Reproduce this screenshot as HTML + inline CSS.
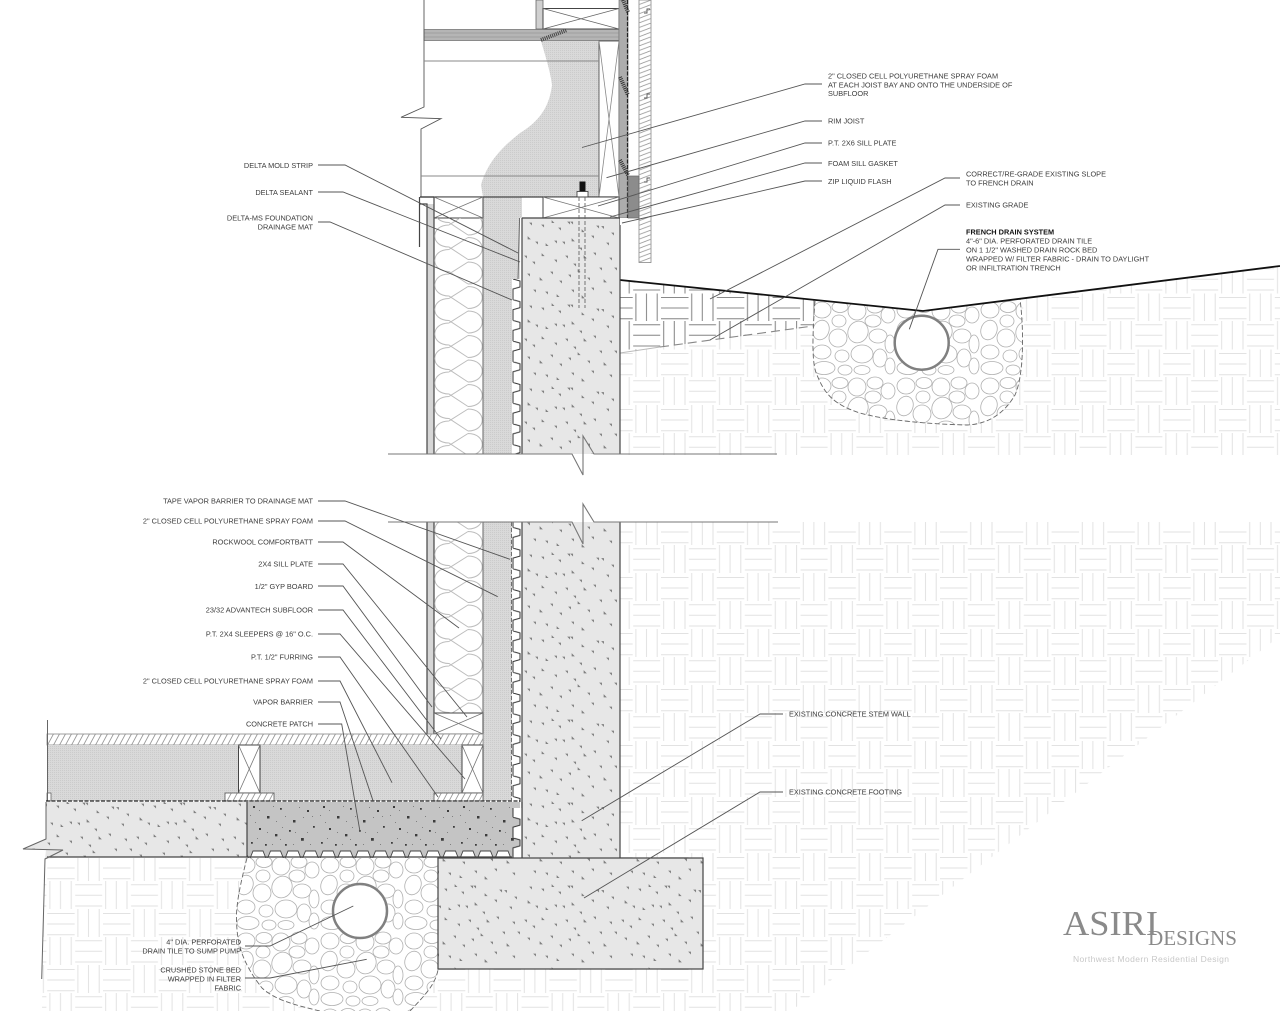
<!DOCTYPE html>
<html><head><meta charset="utf-8"><style>
html,body{margin:0;padding:0;background:#fff}
svg{display:block;filter:blur(.35px)}
text{font-family:"Liberation Sans",sans-serif;font-size:7.35px;fill:#3c3c3c}
.e{text-anchor:end}
.l{fill:none;stroke:#555;stroke-width:.9}
.k{fill:none;stroke:#444;stroke-width:1.2}
</style></head><body>
<svg width="1280" height="1011" viewBox="0 0 1280 1011" xmlns="http://www.w3.org/2000/svg">
<defs>
<pattern id="earth" patternUnits="userSpaceOnUse" x="940" y="685" width="55.8" height="56">
<path d="M0 4.5H27.5M0 15H27.5M0 25.7H27.5M30.7 0V28M41.3 0V28M52 0V28M2.7 28V56M13.3 28V56M24 28V56M28 31.7H55M28 42.3H55M28 53H55" stroke="#e2e2e2" stroke-width="1" fill="none"/>
</pattern>
<pattern id="earthD" patternUnits="userSpaceOnUse" x="940" y="685" width="55.8" height="56">
<path d="M0 4.5H27.5M0 15H27.5M0 25.7H27.5M30.7 0V28M41.3 0V28M52 0V28M2.7 28V56M13.3 28V56M24 28V56M28 31.7H55M28 42.3H55M28 53H55" stroke="#8a8a8a" stroke-width="1" fill="none"/>
</pattern>
<pattern id="hatch" patternUnits="userSpaceOnUse" width="6" height="11" patternTransform="translate(0 734)">
<rect width="6" height="11" fill="#fff"/><path d="M-1 12L6 -1M5 12L12 -1" stroke="#999" stroke-width=".9"/>
</pattern>
<pattern id="sid" patternUnits="userSpaceOnUse" width="12" height="4.6" x="639">
<path d="M0 4.6L12 0" stroke="#999" stroke-width=".8"/>
</pattern>
<pattern id="foam" patternUnits="userSpaceOnUse" width="2" height="2">
<rect width="2" height="2" fill="#d9d9d9"/><rect width="1" height="1" fill="#cbcbcb"/>
</pattern>
<pattern id="batt" patternUnits="userSpaceOnUse" x="434" y="224" width="49" height="24.5">
<g fill="none" stroke="#bdbdbd" stroke-width="1">
<path d="M15 1C-4 1-4 23 15 23L34 35.5M34 13.5C53 13.5 53 35.500 34 35.5M15 -1.5L34 11M34 -11C53 -11 53 11 34 11M15 1L34 -11.5M15 25.5L34 13.5"/>
</g>
</pattern>
<pattern id="conc" patternUnits="userSpaceOnUse" x="522" y="218" width="97" height="83">
<rect width="97" height="83" fill="#e7e7e7"/>
<path fill="#808080" stroke="#808080" stroke-width=".7" d="M8 5h1.6v1.6zM20 7h1.7v1.7zM30 3l1.6 1.6h-1.6zM37 10h1.6v1.6zM46 4h1.7v1.7zM49 4h1.7v1.7zM60 12l1.8 1.8h-1.8zM75 8h1.7v1.7zM80 8.500h1.6v1.6zM90 15h1.6v1.6zM6 19l2 2h-2zM14 24h1.6v1.6zM24 26l1.7 1.7h-1.7zM33 23h1.6v1.6zM41 24h1.6v1.6zM50 21l2 2h-2zM58 30h1.6v1.6zM70 18h1.6v1.6zM85 25h1.6v1.6zM3 38h1.6v1.6zM11 44h1.7v1.7zM20 36l1.8 1.8h-1.8zM33 42h1.6v1.6zM44 38h1.6v1.6zM52 46h1.7v1.7zM62 38l2 2h-2zM72 35h1.6v1.6zM88 40h1.6v1.6zM93 50h1.6v1.6zM6 56h1.6v1.6zM18 60l2 2h-2zM29 54h1.6v1.6zM38 63h1.6v1.6zM47 57h1.6v1.6zM56 52l1.8 1.8h-1.8zM66 60h1.6v1.6zM78 50h1.6v1.6zM82 62l2 2h-2zM12 72h1.6v1.6zM24 74h1.6v1.6zM35 77l1.7 1.7h-1.7zM50 72h1.6v1.6zM60 78l2 2h-2zM70 70h1.6v1.6zM88 74h1.7v1.7z"/>
</pattern>
<pattern id="patch" patternUnits="userSpaceOnUse" x="247" y="802" width="70" height="48">
<rect width="70" height="48" fill="#c4c4c4"/>
<path fill="#3c3c3c" d="M6 4h2v2h-2zM20 14h2.500v2.500h-2.500zM33 6h1.800v1.800h-1.800zM46 18h2.500v2.500h-2.500zM60 8h2v2h-2zM12 26h2v2h-2zM28 32h2.400v2.400h-2.400zM42 28h1.800v1.800h-1.800zM54 36h2.800v2.800h-2.800zM66 24h1.800v1.800h-1.800zM4 40h1.800v1.800h-1.800zM18 42h1.800v1.800h-1.800zM38 42h1.800v1.800h-1.800z"/>
<path fill="#808080" d="M3 13h1v1h-1zM12 8h1v1h-1zM26 4h1v1h-1zM29 19h1v1h-1zM38 14h1v1h-1zM52 5h1v1h-1zM56 15h1v1h-1zM65 14h1v1h-1zM8 20h1v1h-1zM20 30h1v1h-1zM35 25h1v1h-1zM48 30h1v1h-1zM60 30h1v1h-1zM10 36h1v1h-1zM33 37h1v1h-1zM46 42h1v1h-1zM63 42h1v1h-1zM25 42h1v1h-1z"/>
</pattern>
<pattern id="peb" patternUnits="userSpaceOnUse" x="812" y="300" width="84" height="76">
<rect width="84" height="76" fill="#fff"/>
<g fill="#fff" stroke="#b0b0b0" stroke-width=".8">
<ellipse cx="10" cy="10" rx="9" ry="8"/><ellipse cx="28" cy="7" rx="8" ry="5.500"/><ellipse cx="45" cy="11" rx="9" ry="9"/><ellipse cx="63" cy="7" rx="8" ry="6"/><ellipse cx="76" cy="15" rx="7" ry="8"/>
<ellipse cx="27" cy="21" rx="7" ry="6"/><ellipse cx="61" cy="21" rx="8" ry="6"/>
<ellipse cx="9" cy="30" rx="8" ry="10" transform="rotate(20 9 30)"/><ellipse cx="26" cy="38" rx="9" ry="9"/><ellipse cx="46" cy="32" rx="10" ry="11" transform="rotate(25 46 32)"/><ellipse cx="66" cy="36" rx="9" ry="7"/><ellipse cx="78" cy="44" rx="5" ry="9"/>
<ellipse cx="10" cy="52" rx="9" ry="7"/><ellipse cx="30" cy="56" rx="7" ry="6"/><ellipse cx="50" cy="54" rx="11" ry="9"/><ellipse cx="68" cy="58" rx="7" ry="9"/>
<ellipse cx="12" cy="68" rx="11" ry="6.500"/><ellipse cx="33" cy="70" rx="7" ry="5"/><ellipse cx="50" cy="70" rx="8" ry="4.500"/><ellipse cx="78" cy="66" rx="5" ry="8"/>
</g></pattern>
<pattern id="peb2" patternUnits="userSpaceOnUse" x="236" y="855" width="84" height="76">
<rect width="84" height="76" fill="#fff"/>
<g fill="#fff" stroke="#b0b0b0" stroke-width=".8">
<ellipse cx="10" cy="10" rx="9" ry="8"/><ellipse cx="28" cy="7" rx="8" ry="5.500"/><ellipse cx="45" cy="11" rx="9" ry="9"/><ellipse cx="63" cy="7" rx="8" ry="6"/><ellipse cx="76" cy="15" rx="7" ry="8"/>
<ellipse cx="27" cy="21" rx="7" ry="6"/><ellipse cx="61" cy="21" rx="8" ry="6"/>
<ellipse cx="9" cy="30" rx="8" ry="10" transform="rotate(20 9 30)"/><ellipse cx="26" cy="38" rx="9" ry="9"/><ellipse cx="46" cy="32" rx="10" ry="11" transform="rotate(25 46 32)"/><ellipse cx="66" cy="36" rx="9" ry="7"/><ellipse cx="78" cy="44" rx="5" ry="9"/>
<ellipse cx="10" cy="52" rx="9" ry="7"/><ellipse cx="30" cy="56" rx="7" ry="6"/><ellipse cx="50" cy="54" rx="11" ry="9"/><ellipse cx="68" cy="58" rx="7" ry="9"/>
<ellipse cx="12" cy="68" rx="11" ry="6.500"/><ellipse cx="33" cy="70" rx="7" ry="5"/><ellipse cx="50" cy="70" rx="8" ry="4.500"/><ellipse cx="78" cy="66" rx="5" ry="8"/>
</g></pattern>
<pattern id="mat" patternUnits="userSpaceOnUse" x="511" y="279" width="11" height="20.7">
<path d="M2 0L9 2V8L2 10V20.700H11V0Z" fill="#fff"/>
<path d="M2 0L9 2V8L2 10V20.700" fill="none" stroke="#333" stroke-width="1"/>
</pattern>
<pattern id="teeth" patternUnits="userSpaceOnUse" x="250" y="850" width="17.500" height="8">
<path d="M0 8.500L3 1H13L16 8.500Z" fill="#fff" stroke="#444" stroke-width=".9"/>
</pattern>
<clipPath id="cU"><polygon points="620,280 923,311 1280,266 1280,455 620,455"/></clipPath>
<clipPath id="cL"><polygon points="620,522 1280,522 1280,636 791,1011 42,1011 44,858 620,858"/></clipPath>
</defs>

<!-- earth -->
<rect x="0" y="0" width="1280" height="1011" fill="url(#earth)" clip-path="url(#cU)"/>
<rect x="0" y="0" width="1280" height="1011" fill="url(#earth)" clip-path="url(#cL)"/>
<polygon points="620,280 815,300 815,326 620,353" fill="url(#earthD)"/>
<path d="M620 353L660 347" stroke="#bbb" fill="none"/>
<path d="M660 347L813 326" stroke="#888" stroke-width="1.1" stroke-dasharray="9 5" fill="none"/>

<!-- upper drain -->
<path d="M815 301C812 340 812 365 817 375C825 395 835 405 860 413C885 420 925 424 967 425C990 424 1005 412 1015 395C1024 375 1024 330 1020 299L923 311Z" fill="url(#peb)"/>
<path d="M815 301C812 340 812 365 817 375C825 395 835 405 860 413C885 420 925 424 967 425C990 424 1005 412 1015 395C1024 375 1024 330 1020 299" fill="none" stroke="#666" stroke-width=".9" stroke-dasharray="5 2.500"/>
<circle cx="921.700" cy="342.700" r="27" fill="#fff" stroke="#808080" stroke-width="2.500"/>
<path d="M620 280L923 311L1280 266" fill="none" stroke="#111" stroke-width="1.800"/>

<!-- lower drain -->
<path d="M247 858C240 885 236 905 236.500 920C237 940 240 960 262 988C275 1000 295 1005 320 1011H410C425 995 435 985 438 970V858Z" fill="url(#peb2)"/>
<path d="M247 858C240 885 236 905 236.500 920C237 940 240 960 262 988C275 1000 295 1005 320 1011M410 1011C425 995 435 985 438 970" fill="none" stroke="#666" stroke-width=".9" stroke-dasharray="5 2.500"/>
<circle cx="360" cy="911" r="27" fill="#fff" stroke="#808080" stroke-width="2.500"/>

<!-- upper house -->
<path d="M483 197L481 185C488 160 505 145 520 133C545 118 550 100 552 85C550 70 545 55 541 41H599V197Z" fill="url(#foam)"/>
<path d="M483 197V218H512V279H520V218H522V197Z" fill="url(#foam)"/>
<rect x="536" y="0" width="7" height="29" fill="#d0d0d0" stroke="#666" stroke-width=".8"/>
<rect x="543" y="8.500" width="76" height="20.500" fill="#fff" stroke="#444" stroke-width="1"/>
<path d="M543 8.500L619 29M543 29L619 8.500" stroke="#666" stroke-width=".8"/>
<rect x="424" y="29.500" width="195" height="11" fill="#b5b5b5" stroke="#777" stroke-width=".8"/>
<path d="M424 33H619M424 37H619" stroke="#999" stroke-width=".7"/>
<path d="M541 40L567 30" stroke="#444" stroke-width="4" stroke-dasharray="1 1"/>
<rect x="599" y="41" width="20" height="156" fill="#fff" stroke="#555" stroke-width=".9"/>
<path d="M599 41L619 197M619 41L599 197" stroke="#888" stroke-width=".8"/>
<path d="M424 0V107L401 117.300L441 118.700L421 129V197" class="l" stroke="#777"/>
<path d="M424 61H599M421 176H599" stroke="#888" stroke-width="1" fill="none"/>
<path d="M420 197H620" stroke="#444" stroke-width="1.200"/>
<rect x="619" y="0" width="9" height="218" fill="#adadad" stroke="#777" stroke-width=".7"/>
<path d="M627.500 0V218" stroke="#222" stroke-width="1.200" stroke-dasharray="4 1.500"/>
<path d="M620 77L628 95M620 160L628 175M623 0L628 12" stroke="#333" stroke-width="4" stroke-dasharray="1 1"/>
<rect x="639" y="0" width="12" height="262.500" fill="url(#sid)" stroke="#888" stroke-width=".8"/>
<path d="M644 13H647V9H650M644 98H647V94H650M644 182H647V178H650" stroke="#555" fill="#fff" stroke-width=".9"/>
<rect x="628" y="176" width="11" height="42" fill="#8c8c8c" stroke="#666" stroke-width=".7"/>
<rect x="579.500" y="181.500" width="6" height="10" fill="#111"/>
<rect x="577" y="191.500" width="11" height="5.500" fill="#fff" stroke="#333" stroke-width=".8"/>
<rect x="543" y="197" width="76" height="21" fill="#fff" stroke="#444" stroke-width="1"/>
<path d="M543 218L619 197M543 197L619 218" stroke="#777" stroke-width=".8"/>
<rect x="434" y="197" width="49" height="21" fill="#fff" stroke="#444" stroke-width="1"/>
<path d="M434 218L483 197M434 197L483 218" stroke="#777" stroke-width=".8"/>

<!-- upper wall -->
<rect x="427" y="204" width="7" height="250" fill="#d6d6d6"/>
<path d="M420 197H434M420 204H427V454M434 197V454M419.500 197V247" class="k" stroke-width="1"/>
<rect x="434" y="218" width="49" height="236" fill="url(#batt)"/>
<rect x="483" y="218" width="29" height="236" fill="url(#foam)"/>
<path d="M483 218V454" stroke="#666" stroke-width="1"/>
<rect x="511" y="279" width="11" height="175" fill="url(#mat)"/>
<path d="M519.500 218L518 279" stroke="#555" stroke-width=".8"/>
<rect x="522" y="218" width="98" height="236" fill="url(#conc)"/>
<path d="M522 218V454M620 218V454M522 218H620" class="k"/>
<path d="M579 197V308M585 197V308" stroke="#666" stroke-width=".9" stroke-dasharray="4 2"/>
<polygon points="620,218 628,218 622,225 620,225" fill="#fff"/>
<path d="M388 454H572L583 475V436L594 454H777" stroke="#777" stroke-width="1.100" fill="none"/>

<!-- lower wall -->
<rect x="427" y="522" width="7" height="212" fill="#d6d6d6"/>
<path d="M427 522V734M434 522V734" class="k" stroke-width="1"/>
<rect x="434" y="522" width="49" height="191" fill="url(#batt)"/>
<rect x="483" y="522" width="29" height="279" fill="url(#foam)"/>
<path d="M483 522V801" stroke="#666" stroke-width="1"/>
<rect x="511" y="522" width="11" height="280" fill="url(#mat)"/>
<path d="M511.500 522V800" stroke="#555" stroke-width=".8" stroke-dasharray="4 2"/>
<rect x="522" y="522" width="98" height="336" fill="url(#conc)"/>
<path d="M522 522V858M620 522V858" class="k"/>
<path d="M388 522H572L583 544V504L594 522H778" stroke="#777" stroke-width="1.100" fill="none"/>
<rect x="434" y="713" width="49" height="21" fill="#fff" stroke="#444" stroke-width="1"/>
<path d="M434 734L483 713M434 713L483 734" stroke="#777" stroke-width=".8"/>

<!-- floor -->
<rect x="47" y="734" width="436" height="11" fill="url(#hatch)" stroke="#888" stroke-width=".8"/>
<rect x="47" y="745" width="436" height="56" fill="url(#foam)"/>
<rect x="47" y="793" width="4" height="8" fill="#fff" stroke="#555" stroke-width=".7"/>
<path d="M47.500 720V801" stroke="#666"/>
<rect x="238.500" y="745" width="21.500" height="48" fill="#fff" stroke="#444"/>
<path d="M238.500 745L260 793M260 745L238.500 793" stroke="#777" stroke-width=".8"/>
<rect x="462" y="745" width="21" height="48" fill="#fff" stroke="#444"/>
<path d="M462 745L483 793M483 745L462 793" stroke="#777" stroke-width=".8"/>
<rect x="225" y="793" width="49" height="8" fill="url(#hatch)" stroke="#555" stroke-width=".8"/>
<rect x="434" y="793" width="49" height="8" fill="url(#hatch)" stroke="#555" stroke-width=".8"/>
<path d="M46 801H520" stroke="#222" stroke-width="1.200" stroke-dasharray="4 1.500"/>
<path d="M46 802H247V857H63L45 859L46 850L23 849L46 839Z" fill="url(#conc)"/>
<rect x="247" y="802" width="273" height="56" fill="url(#patch)"/>
<rect x="247" y="850" width="265" height="8" fill="url(#teeth)"/>
<rect x="511" y="808" width="11" height="50" fill="url(#mat)"/>
<path d="M247 802V857M47 857H512" class="k"/>
<path d="M46 802V839L23 849L63 850L45 859L41.700 979" stroke="#666" stroke-width="1" fill="none"/>
<path d="M522 802V858" class="k"/>
<rect x="438" y="858" width="265" height="111" fill="url(#conc)" stroke="#444" stroke-width="1.200"/>

<!-- leaders -->
<g class="l">
<path d="M318 165H345L518 253"/>
<path d="M318 192H343L520 262"/>
<path d="M318 222H330L512 300"/>
<path d="M822 84H805L582 147.500"/>
<path d="M822 121H805L606.500 177.700"/>
<path d="M822 143H805L598 206"/>
<path d="M822 163H805L610 217"/>
<path d="M822 181H805L622 223"/>
<path d="M960 178H945L710 299"/>
<path d="M960 205H945L710 340"/>
<path d="M960 249.300H938L909.300 329.300"/>
<path d="M318 501H345L510 559.300"/>
<path d="M318 521H345L497.700 596.700"/>
<path d="M318 542H343L459 628"/>
<path d="M318 564H343L467 717"/>
<path d="M318 586H343L432 707"/>
<path d="M318 610H343L441 739"/>
<path d="M318 634H340L465 779"/>
<path d="M318 657H340L438 797"/>
<path d="M318 681H340L392 782.700"/>
<path d="M318 702H340L373 800.700"/>
<path d="M318 724H341.700L360 831.700"/>
<path d="M783 714H760L581.700 820.700"/>
<path d="M783 792H760L584 898"/>
<path d="M245 946H270L353.300 906"/>
<path d="M245 978H270L366.700 959.300"/>
</g>

<!-- labels -->
<g>
<text class="e" x="313" y="168">DELTA MOLD STRIP</text>
<text class="e" x="313" y="195">DELTA SEALANT</text>
<text class="e" x="313" y="220.500">DELTA-MS FOUNDATION</text>
<text class="e" x="313" y="229.500">DRAINAGE MAT</text>
<text x="828" y="78.500">2" CLOSED CELL POLYURETHANE SPRAY FOAM</text>
<text x="828" y="87.500">AT EACH JOIST BAY AND ONTO THE UNDERSIDE OF</text>
<text x="828" y="96">SUBFLOOR</text>
<text x="828" y="123.500">RIM JOIST</text>
<text x="828" y="145.500">P.T. 2X6 SILL PLATE</text>
<text x="828" y="166">FOAM SILL GASKET</text>
<text x="828" y="184">ZIP LIQUID FLASH</text>
<text x="966" y="176.500">CORRECT/RE-GRADE EXISTING SLOPE</text>
<text x="966" y="185.500">TO FRENCH DRAIN</text>
<text x="966" y="207.500">EXISTING GRADE</text>
<text x="966" y="234.500" style="font-weight:bold;fill:#111">FRENCH DRAIN SYSTEM</text>
<text x="966" y="243.500">4"-6" DIA. PERFORATED DRAIN TILE</text>
<text x="966" y="252.500">ON 1 1/2" WASHED DRAIN ROCK BED</text>
<text x="966" y="261.500">WRAPPED W/ FILTER FABRIC - DRAIN TO DAYLIGHT</text>
<text x="966" y="270.500">OR INFILTRATION TRENCH</text>
<text class="e" x="313" y="503.500">TAPE VAPOR BARRIER TO DRAINAGE MAT</text>
<text class="e" x="313" y="523.500">2" CLOSED CELL POLYURETHANE SPRAY FOAM</text>
<text class="e" x="313" y="544.500">ROCKWOOL COMFORTBATT</text>
<text class="e" x="313" y="566.500">2X4 SILL PLATE</text>
<text class="e" x="313" y="589">1/2" GYP BOARD</text>
<text class="e" x="313" y="612.500">23/32 ADVANTECH SUBFLOOR</text>
<text class="e" x="313" y="636.500">P.T.  2X4 SLEEPERS @ 16" O.C.</text>
<text class="e" x="313" y="659.500">P.T. 1/2" FURRING</text>
<text class="e" x="313" y="683.500">2" CLOSED CELL POLYURETHANE SPRAY FOAM</text>
<text class="e" x="313" y="704.500">VAPOR BARRIER</text>
<text class="e" x="313" y="726.500">CONCRETE PATCH</text>
<text x="789" y="716.500">EXISTING CONCRETE STEM WALL</text>
<text x="789" y="794.500">EXISTING CONCRETE FOOTING</text>
<text class="e" x="241" y="944.500">4" DIA. PERFORATED</text>
<text class="e" x="241" y="953.500">DRAIN TILE TO SUMP PUMP</text>
<text class="e" x="241" y="972.500">CRUSHED STONE BED</text>
<text class="e" x="241" y="981.500">WRAPPED IN FILTER</text>
<text class="e" x="241" y="990.500">FABRIC</text>
</g>

<!-- logo -->
<text x="1063" y="935" textLength="95" lengthAdjust="spacingAndGlyphs" style="font-family:'Liberation Serif',serif;font-size:35px;fill:#8a8a8a">ASIRI</text>
<text x="1148" y="945" textLength="89" lengthAdjust="spacingAndGlyphs" style="font-family:'Liberation Serif',serif;font-size:21px;fill:#8a8a8a">DESIGNS</text>
<text x="1073" y="962" textLength="156" style="font-size:8.500px;fill:#c8c8c8">Northwest  Modern  Residential  Design</text>
</svg>
</body></html>
